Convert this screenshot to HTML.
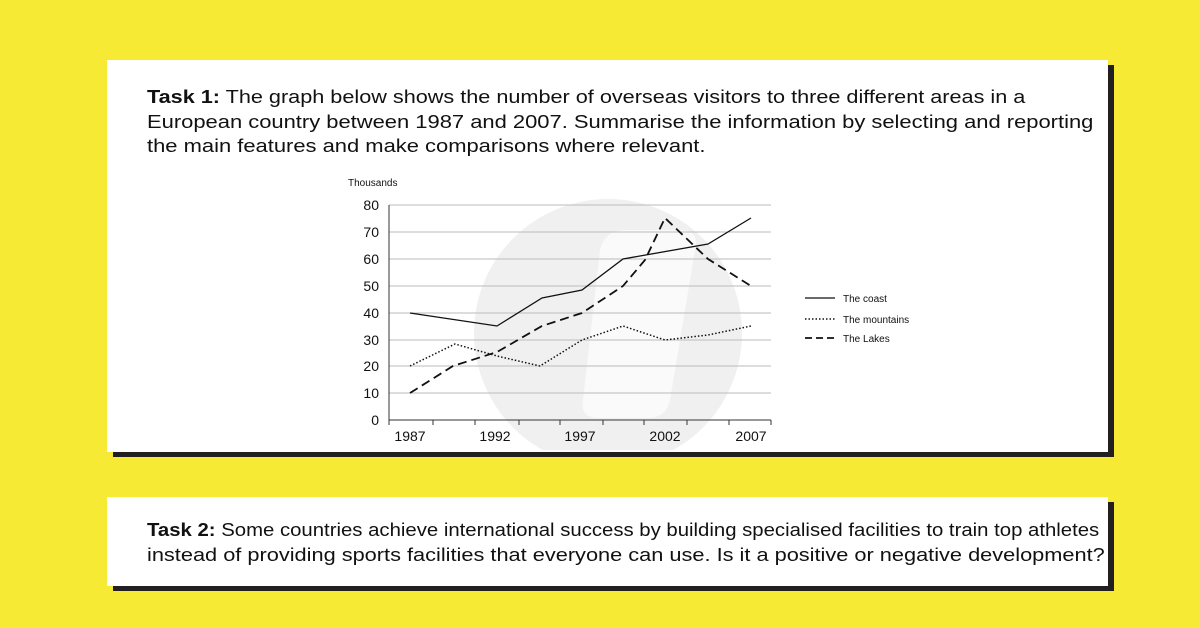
<!DOCTYPE html>
<html><head><style>
body{margin:0;width:1200px;height:628px;background:#f7ea35;position:relative;overflow:hidden;font-family:"Liberation Sans",sans-serif;}
.card{position:absolute;background:#fff;box-shadow:6px 5px 0 #231f20;}
.l{position:absolute;left:147px;font-size:18.3px;line-height:24.5px;color:#111;white-space:nowrap;transform-origin:0 0;}
</style></head><body>
<div class="card" style="left:107px;top:60px;width:1001px;height:392px;"></div>
<div class="card" style="left:107px;top:497px;width:1001px;height:89px;"></div>
<svg style="position:absolute;left:0;top:0" width="1200" height="628" font-family="Liberation Sans, sans-serif">
<defs><clipPath id="c"><rect x="107" y="60" width="1001" height="390"/></clipPath></defs>
<g clip-path="url(#c)">
<circle cx="608" cy="333" r="134" fill="#f0f0f0"/>
<path d="M600 250 q5-20 25-20 h55 q20 0 15 20 l-25 150 q-4 18-22 18 h-50 q-18 0-15-18z" fill="#fafafa"/>
</g>
<g stroke="#bbb" stroke-width="1">
<line x1="389" y1="205" x2="771" y2="205"/><line x1="389" y1="232" x2="771" y2="232"/>
<line x1="389" y1="259" x2="771" y2="259"/><line x1="389" y1="286" x2="771" y2="286"/>
<line x1="389" y1="313" x2="771" y2="313"/><line x1="389" y1="340" x2="771" y2="340"/>
<line x1="389" y1="366" x2="771" y2="366"/><line x1="389" y1="393" x2="771" y2="393"/>
</g>
<g stroke="#333" stroke-width="1">
<line x1="389" y1="205" x2="389" y2="420"/><line x1="389" y1="420" x2="771" y2="420"/>
<path d="M389 420v5M433 420v5M475 420v5M519 420v5M560 420v5M603 420v5M644 420v5M687 420v5M729 420v5M771 420v5"/>
</g>
<g font-size="14" fill="#111" text-anchor="end">
<text x="379" y="210">80</text><text x="379" y="237">70</text><text x="379" y="264">60</text><text x="379" y="291">50</text>
<text x="379" y="318">40</text><text x="379" y="345">30</text><text x="379" y="371">20</text><text x="379" y="398">10</text><text x="379" y="425">0</text>
</g>
<g font-size="14" fill="#111" text-anchor="middle">
<text x="410" y="441">1987</text><text x="495" y="441">1992</text><text x="580" y="441">1997</text><text x="665" y="441">2002</text><text x="751" y="441">2007</text>
</g>
<text x="348" y="186" font-size="10" fill="#111">Thousands</text>
<g fill="none" stroke="#111">
<polyline stroke-width="1.3" points="410,313 497,326 542,298 582,290 623,259 708,244 751,218"/>
<polyline stroke-width="1.5" stroke-dasharray="1.5,2" points="410,366 455,344 497,356 540,366 582,340 623,326 665,340 708,335 751,326"/>
<polyline stroke-width="1.8" stroke-dasharray="9,5" points="410,393 453,366 497,352 542,326 582,313 623,286 645,260 665,218 708,259 751,286"/>
<line x1="805" y1="298" x2="835" y2="298" stroke-width="1.3"/>
<line x1="805" y1="319" x2="835" y2="319" stroke-width="1.5" stroke-dasharray="1.5,2"/>
<line x1="805" y1="338" x2="835" y2="338" stroke-width="1.8" stroke-dasharray="7,4"/>
</g>
<g font-size="10" fill="#111">
<text x="843" y="302">The coast</text><text x="843" y="323">The mountains</text><text x="843" y="342">The Lakes</text>
</g>
</svg>
<div class="l" style="top:85px;transform:scaleX(1.184)"><b>Task 1:</b> The graph below shows the number of overseas visitors to three different areas in a</div>
<div class="l" style="top:109.5px;transform:scaleX(1.2)">European country between 1987 and 2007. Summarise the information by selecting and reporting</div>
<div class="l" style="top:134px;transform:scaleX(1.2)">the main features and make comparisons where relevant.</div>
<div class="l" style="top:518px;transform:scaleX(1.112)"><b>Task 2:</b> Some countries achieve international success by building specialised facilities to train top athletes</div>
<div class="l" style="top:542.5px;transform:scaleX(1.19)">instead of providing sports facilities that everyone can use. Is it a positive or negative development?</div>
</body></html>
